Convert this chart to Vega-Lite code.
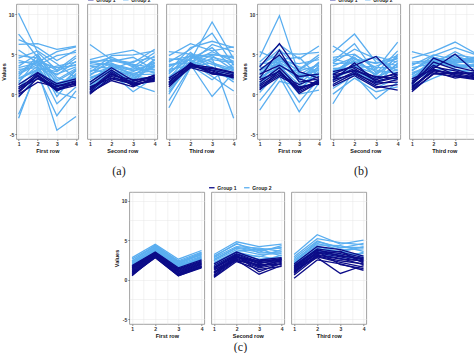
{
"$schema": "https://vega.github.io/schema/vega-lite/v6.json",
"padding": {"left": 1, "top": -4, "right": 0, "bottom": 0},
"config": {
 "view": {"stroke": "#8a8a8a", "strokeWidth": 0.8},
 "axis": {"domain": false, "labelFontSize": 5, "titleFontSize": 5.5, "labelFont": "Liberation Sans", "titleFont": "Liberation Sans", "labelFontWeight": "bold", "titleFontWeight": "bold", "labelColor": "#333", "titleColor": "#111", "tickSize": 1.5, "tickColor": "#444", "tickWidth": 0.6, "labelPadding": 1, "titlePadding": 1.5, "gridColor": "#e6e6e6", "gridWidth": 0.5, "labelFlush": false, "labelOverlap": false},
 "legend": {"orient": "top", "direction": "horizontal", "title": null, "symbolType": "stroke", "symbolStrokeWidth": 1.5, "symbolSize": 30, "labelFontSize": 5, "labelFont": "Liberation Sans", "labelFontWeight": "bold", "labelColor": "#222", "columnPadding": 4, "padding": 0, "offset": 0, "labelOffset": 2, "layout": {"top": {"anchor": "middle"}}},
 "title": {"font": "Liberation Serif", "fontSize": 12, "fontWeight": "normal", "color": "#222", "orient": "bottom", "anchor": "middle", "offset": 12},
 "line": {"strokeWidth": 1.3}
},
"datasets": {
 "a1": [
  {"g":"Group 2","i":1,"1":10.1,"2":5.2,"3":3.0,"4":4.8},
  {"g":"Group 2","i":2,"1":7.5,"2":4.6,"3":1.8,"4":3.2},
  {"g":"Group 2","i":3,"1":6.8,"2":5.8,"3":4.2,"4":5.5},
  {"g":"Group 2","i":4,"1":6.2,"2":6.3,"3":5.6,"4":6.0},
  {"g":"Group 2","i":5,"1":5.5,"2":3.9,"3":2.4,"4":4.1},
  {"g":"Group 2","i":6,"1":4.8,"2":4.5,"3":0.5,"4":2.2},
  {"g":"Group 2","i":7,"1":4.2,"2":3.6,"3":4.8,"4":5.2},
  {"g":"Group 2","i":8,"1":3.9,"2":4.1,"3":3.3,"4":3.6},
  {"g":"Group 2","i":9,"1":3.5,"2":5.0,"3":1.2,"4":1.8},
  {"g":"Group 2","i":10,"1":3.1,"2":3.3,"3":2.8,"4":4.5},
  {"g":"Group 2","i":11,"1":2.8,"2":4.2,"3":-0.3,"4":2.6},
  {"g":"Group 2","i":12,"1":2.5,"2":3.7,"3":1.6,"4":3.0},
  {"g":"Group 2","i":13,"1":2.2,"2":4.8,"3":2.1,"4":1.2},
  {"g":"Group 2","i":14,"1":1.9,"2":3.0,"3":3.5,"4":4.0},
  {"g":"Group 2","i":15,"1":1.6,"2":3.5,"3":-1.2,"4":0.9},
  {"g":"Group 2","i":16,"1":1.2,"2":2.8,"3":0.8,"4":2.9},
  {"g":"Group 2","i":17,"1":0.8,"2":3.2,"3":2.5,"4":3.4},
  {"g":"Group 2","i":18,"1":0.3,"2":2.6,"3":1.4,"4":2.0},
  {"g":"Group 2","i":19,"1":-0.4,"2":2.4,"3":-2.7,"4":0.4},
  {"g":"Group 2","i":20,"1":-2.5,"2":2.9,"3":-4.5,"4":-2.8},
  {"g":"Group 2","i":21,"1":-3.0,"2":3.4,"3":0.2,"4":-0.5},
  {"g":"Group 2","i":22,"1":2.6,"2":4.0,"3":5.3,"4":5.9},
  {"g":"Group 2","i":23,"1":3.3,"2":3.9,"3":1.0,"4":2.4},
  {"g":"Group 2","i":24,"1":1.4,"2":4.4,"3":2.9,"4":3.7},
  {"g":"Group 2","i":25,"1":4.5,"2":5.4,"3":3.8,"4":2.0},
  {"g":"Group 2","i":26,"1":2.0,"2":3.1,"3":0.3,"4":3.1},
  {"g":"Group 1","i":1,"1":0.2,"2":2.4,"3":0.7,"4":1.4},
  {"g":"Group 1","i":2,"1":-0.3,"2":2.0,"3":0.5,"4":1.1},
  {"g":"Group 1","i":3,"1":0.6,"2":2.6,"3":1.0,"4":1.7},
  {"g":"Group 1","i":4,"1":0.9,"2":2.2,"3":0.6,"4":1.3},
  {"g":"Group 1","i":5,"1":0.0,"2":1.5,"3":0.9,"4":1.6},
  {"g":"Group 1","i":6,"1":1.2,"2":2.7,"3":1.3,"4":1.9},
  {"g":"Group 1","i":7,"1":0.4,"2":2.3,"3":0.4,"4":1.5},
  {"g":"Group 1","i":8,"1":0.7,"2":1.9,"3":1.1,"4":1.2}
 ],
 "a2": [
  {"g":"Group 2","i":1,"1":6.2,"2":4.3,"3":3.9,"4":5.6},
  {"g":"Group 2","i":2,"1":4.3,"2":5.0,"3":5.5,"4":4.2},
  {"g":"Group 2","i":3,"1":4.0,"2":3.6,"3":2.9,"4":3.8},
  {"g":"Group 2","i":4,"1":3.8,"2":4.6,"3":3.4,"4":5.2},
  {"g":"Group 2","i":5,"1":3.5,"2":3.2,"3":2.2,"4":4.4},
  {"g":"Group 2","i":6,"1":3.2,"2":4.1,"3":4.6,"4":3.0},
  {"g":"Group 2","i":7,"1":3.0,"2":2.7,"3":1.9,"4":3.6},
  {"g":"Group 2","i":8,"1":2.8,"2":3.8,"3":3.1,"4":4.8},
  {"g":"Group 2","i":9,"1":2.5,"2":3.4,"3":2.6,"4":2.9},
  {"g":"Group 2","i":10,"1":2.3,"2":4.4,"3":3.7,"4":3.3},
  {"g":"Group 2","i":11,"1":2.0,"2":2.9,"3":1.5,"4":3.9},
  {"g":"Group 2","i":12,"1":1.8,"2":3.5,"3":2.4,"4":2.5},
  {"g":"Group 2","i":13,"1":1.5,"2":3.1,"3":4.1,"4":4.6},
  {"g":"Group 2","i":14,"1":1.2,"2":2.6,"3":0.3,"4":2.1},
  {"g":"Group 2","i":15,"1":1.0,"2":3.3,"3":2.0,"4":3.5},
  {"g":"Group 2","i":16,"1":0.7,"2":2.3,"3":2.8,"4":4.0},
  {"g":"Group 2","i":17,"1":0.4,"2":2.0,"3":1.2,"4":0.3},
  {"g":"Group 2","i":18,"1":0.1,"2":2.5,"3":3.3,"4":2.7},
  {"g":"Group 2","i":19,"1":2.7,"2":4.8,"3":4.9,"4":5.4},
  {"g":"Group 2","i":20,"1":3.6,"2":3.9,"3":2.3,"4":1.8},
  {"g":"Group 2","i":21,"1":1.4,"2":3.7,"3":3.0,"4":3.1},
  {"g":"Group 2","i":22,"1":2.1,"2":3.0,"3":1.7,"4":4.3},
  {"g":"Group 2","i":23,"1":4.1,"2":4.2,"3":3.6,"4":2.6},
  {"g":"Group 2","i":24,"1":0.9,"2":2.8,"3":2.5,"4":3.6},
  {"g":"Group 1","i":1,"1":0.0,"2":2.2,"3":1.2,"4":1.7},
  {"g":"Group 1","i":2,"1":0.3,"2":2.5,"3":1.4,"4":2.0},
  {"g":"Group 1","i":3,"1":0.6,"2":2.8,"3":1.0,"4":1.9},
  {"g":"Group 1","i":4,"1":0.9,"2":2.0,"3":1.6,"4":2.3},
  {"g":"Group 1","i":5,"1":1.2,"2":3.0,"3":1.3,"4":1.6},
  {"g":"Group 1","i":6,"1":0.2,"2":1.7,"3":0.9,"4":2.1},
  {"g":"Group 1","i":7,"1":0.5,"2":2.6,"3":1.1,"4":1.8},
  {"g":"Group 1","i":8,"1":1.5,"2":3.3,"3":1.7,"4":2.2},
  {"g":"Group 1","i":9,"1":0.1,"2":1.9,"3":1.3,"4":2.4},
  {"g":"Group 1","i":10,"1":0.8,"2":2.3,"3":1.8,"4":2.0}
 ],
 "a3": [
  {"g":"Group 2","i":1,"1":5.3,"2":5.0,"3":4.6,"4":4.0},
  {"g":"Group 2","i":2,"1":4.8,"2":6.3,"3":5.4,"4":5.9},
  {"g":"Group 2","i":3,"1":4.4,"2":4.2,"3":9.0,"4":4.4},
  {"g":"Group 2","i":4,"1":4.0,"2":5.6,"3":7.6,"4":3.6},
  {"g":"Group 2","i":5,"1":3.7,"2":3.9,"3":6.2,"4":5.3},
  {"g":"Group 2","i":6,"1":3.4,"2":4.8,"3":3.7,"4":2.9},
  {"g":"Group 2","i":7,"1":3.1,"2":3.6,"3":4.9,"4":4.7},
  {"g":"Group 2","i":8,"1":2.8,"2":4.4,"3":5.8,"4":3.2},
  {"g":"Group 2","i":9,"1":2.5,"2":5.2,"3":3.1,"4":2.4},
  {"g":"Group 2","i":10,"1":2.2,"2":3.8,"3":4.3,"4":3.9},
  {"g":"Group 2","i":11,"1":1.9,"2":4.1,"3":2.6,"4":2.0},
  {"g":"Group 2","i":12,"1":1.5,"2":4.6,"3":5.0,"4":4.5},
  {"g":"Group 2","i":13,"1":1.1,"2":3.5,"3":3.4,"4":1.5},
  {"g":"Group 2","i":14,"1":0.6,"2":3.7,"3":-0.3,"4":2.7},
  {"g":"Group 2","i":15,"1":0.0,"2":4.0,"3":2.2,"4":0.4},
  {"g":"Group 2","i":16,"1":-0.8,"2":3.4,"3":3.9,"4":3.1},
  {"g":"Group 2","i":17,"1":-1.7,"2":3.3,"3":4.5,"4":-3.0},
  {"g":"Group 2","i":18,"1":2.9,"2":5.8,"3":6.6,"4":5.8},
  {"g":"Group 2","i":19,"1":3.6,"2":4.3,"3":2.9,"4":3.4},
  {"g":"Group 2","i":20,"1":2.0,"2":4.9,"3":4.0,"4":2.5},
  {"g":"Group 2","i":21,"1":1.3,"2":3.9,"3":5.3,"4":4.1},
  {"g":"Group 2","i":22,"1":4.2,"2":4.7,"3":3.3,"4":1.8},
  {"g":"Group 2","i":23,"1":0.3,"2":3.6,"3":1.8,"4":3.8},
  {"g":"Group 2","i":24,"1":2.6,"2":4.5,"3":4.8,"4":3.0},
  {"g":"Group 1","i":1,"1":1.2,"2":3.6,"3":3.0,"4":2.4},
  {"g":"Group 1","i":2,"1":1.5,"2":3.8,"3":2.7,"4":2.2},
  {"g":"Group 1","i":3,"1":1.8,"2":3.4,"3":3.2,"4":2.6},
  {"g":"Group 1","i":4,"1":0.9,"2":3.5,"3":2.9,"4":2.0},
  {"g":"Group 1","i":5,"1":1.4,"2":3.9,"3":2.5,"4":2.3},
  {"g":"Group 1","i":6,"1":2.0,"2":3.7,"3":3.3,"4":2.7},
  {"g":"Group 1","i":7,"1":1.1,"2":3.3,"3":2.6,"4":2.1}
 ],
 "b1": [
  {"g":"Group 2","i":1,"1":5.3,"2":4.2,"3":3.0,"4":4.6},
  {"g":"Group 2","i":2,"1":4.6,"2":9.8,"3":2.4,"4":3.8},
  {"g":"Group 2","i":3,"1":4.0,"2":6.2,"3":4.4,"4":6.0},
  {"g":"Group 2","i":4,"1":3.6,"2":5.1,"3":5.0,"4":5.2},
  {"g":"Group 2","i":5,"1":3.3,"2":3.7,"3":2.0,"4":3.3},
  {"g":"Group 2","i":6,"1":3.0,"2":4.5,"3":3.4,"4":2.9},
  {"g":"Group 2","i":7,"1":2.7,"2":3.9,"3":1.6,"4":3.9},
  {"g":"Group 2","i":8,"1":2.4,"2":4.8,"3":2.7,"4":2.3},
  {"g":"Group 2","i":9,"1":2.1,"2":3.4,"3":1.2,"4":3.5},
  {"g":"Group 2","i":10,"1":1.8,"2":4.1,"3":3.8,"4":4.3},
  {"g":"Group 2","i":11,"1":1.5,"2":3.0,"3":0.6,"4":2.6},
  {"g":"Group 2","i":12,"1":1.1,"2":3.6,"3":2.3,"4":3.0},
  {"g":"Group 2","i":13,"1":0.7,"2":2.6,"3":-1.0,"4":1.9},
  {"g":"Group 2","i":14,"1":0.2,"2":2.9,"3":0.0,"4":0.5},
  {"g":"Group 2","i":15,"1":-0.8,"2":2.2,"3":-2.2,"4":1.4},
  {"g":"Group 2","i":16,"1":-2.0,"2":1.6,"3":1.0,"4":2.8},
  {"g":"Group 2","i":17,"1":3.5,"2":5.6,"3":3.1,"4":4.9},
  {"g":"Group 2","i":18,"1":2.9,"2":4.3,"3":4.6,"4":2.1},
  {"g":"Group 2","i":19,"1":2.2,"2":3.2,"3":2.9,"4":3.6},
  {"g":"Group 2","i":20,"1":1.3,"2":4.6,"3":1.8,"4":4.0},
  {"g":"Group 2","i":21,"1":0.9,"2":3.8,"3":0.4,"4":3.2},
  {"g":"Group 2","i":22,"1":3.8,"2":4.0,"3":2.5,"4":1.6},
  {"g":"Group 1","i":1,"1":3.4,"2":6.3,"3":2.8,"4":2.0},
  {"g":"Group 1","i":2,"1":0.5,"2":3.0,"3":0.1,"4":1.5},
  {"g":"Group 1","i":3,"1":1.0,"2":2.6,"3":0.5,"4":1.8},
  {"g":"Group 1","i":4,"1":1.5,"2":3.3,"3":0.8,"4":1.3},
  {"g":"Group 1","i":5,"1":0.8,"2":2.4,"3":1.2,"4":2.2},
  {"g":"Group 1","i":6,"1":2.0,"2":5.5,"3":1.5,"4":1.9},
  {"g":"Group 1","i":7,"1":1.2,"2":2.9,"3":0.3,"4":1.6},
  {"g":"Group 1","i":8,"1":0.6,"2":2.2,"3":0.9,"4":1.4},
  {"g":"Group 1","i":9,"1":2.5,"2":3.6,"3":2.2,"4":2.5},
  {"g":"Group 1","i":10,"1":1.8,"2":2.8,"3":0.6,"4":1.7},
  {"g":"Group 1","i":11,"1":3.0,"2":4.9,"3":1.9,"4":1.2}
 ],
 "b2": [
  {"g":"Group 2","i":1,"1":6.0,"2":4.4,"3":3.8,"4":4.8},
  {"g":"Group 2","i":2,"1":5.2,"2":7.5,"3":4.0,"4":3.6},
  {"g":"Group 2","i":3,"1":4.6,"2":5.0,"3":3.1,"4":6.5},
  {"g":"Group 2","i":4,"1":4.1,"2":6.3,"3":2.6,"4":5.4},
  {"g":"Group 2","i":5,"1":3.8,"2":3.9,"3":4.7,"4":4.0},
  {"g":"Group 2","i":6,"1":3.5,"2":4.6,"3":2.2,"4":3.1},
  {"g":"Group 2","i":7,"1":3.2,"2":3.3,"3":3.5,"4":4.5},
  {"g":"Group 2","i":8,"1":2.9,"2":4.1,"3":2.8,"4":2.7},
  {"g":"Group 2","i":9,"1":2.6,"2":3.6,"3":1.9,"4":3.8},
  {"g":"Group 2","i":10,"1":2.3,"2":4.9,"3":3.3,"4":3.3},
  {"g":"Group 2","i":11,"1":2.0,"2":3.0,"3":1.4,"4":2.4},
  {"g":"Group 2","i":12,"1":1.6,"2":3.5,"3":2.5,"4":4.2},
  {"g":"Group 2","i":13,"1":1.2,"2":2.7,"3":0.8,"4":2.0},
  {"g":"Group 2","i":14,"1":0.7,"2":2.4,"3":-0.6,"4":1.5},
  {"g":"Group 2","i":15,"1":0.0,"2":2.0,"3":0.3,"4":0.9},
  {"g":"Group 2","i":16,"1":-1.2,"2":3.1,"3":1.7,"4":5.0},
  {"g":"Group 2","i":17,"1":3.9,"2":5.6,"3":4.4,"4":2.9},
  {"g":"Group 2","i":18,"1":3.0,"2":2.8,"3":2.0,"4":3.5},
  {"g":"Group 2","i":19,"1":2.4,"2":4.3,"3":3.9,"4":4.4},
  {"g":"Group 2","i":20,"1":1.8,"2":3.8,"3":3.0,"4":2.6},
  {"g":"Group 2","i":21,"1":4.4,"2":3.7,"3":1.2,"4":3.9},
  {"g":"Group 2","i":22,"1":2.7,"2":4.5,"3":2.4,"4":4.7},
  {"g":"Group 1","i":1,"1":1.5,"2":2.8,"3":1.2,"4":1.8},
  {"g":"Group 1","i":2,"1":2.0,"2":3.2,"3":1.6,"4":2.3},
  {"g":"Group 1","i":3,"1":2.5,"2":3.6,"3":4.7,"4":2.0},
  {"g":"Group 1","i":4,"1":1.8,"2":2.5,"3":1.0,"4":0.5},
  {"g":"Group 1","i":5,"1":2.2,"2":3.0,"3":1.8,"4":2.7},
  {"g":"Group 1","i":6,"1":1.2,"2":2.6,"3":1.4,"4":1.5},
  {"g":"Group 1","i":7,"1":2.8,"2":3.4,"3":2.0,"4":2.5},
  {"g":"Group 1","i":8,"1":1.0,"2":2.3,"3":0.8,"4":1.2},
  {"g":"Group 1","i":9,"1":1.7,"2":3.9,"3":1.5,"4":2.1},
  {"g":"Group 1","i":10,"1":2.4,"2":2.9,"3":2.2,"4":1.9}
 ],
 "b3": [
  {"g":"Group 2","i":1,"1":5.3,"2":4.6,"3":4.0,"4":4.3},
  {"g":"Group 2","i":2,"1":4.5,"2":5.3,"3":6.5,"4":5.0},
  {"g":"Group 2","i":3,"1":4.0,"2":4.2,"3":4.9,"4":4.5},
  {"g":"Group 2","i":4,"1":3.6,"2":4.9,"3":4.3,"4":3.8},
  {"g":"Group 2","i":5,"1":3.3,"2":3.8,"3":5.3,"4":4.0},
  {"g":"Group 2","i":6,"1":3.0,"2":4.4,"3":3.7,"4":3.4},
  {"g":"Group 2","i":7,"1":2.7,"2":3.6,"3":4.1,"4":4.7},
  {"g":"Group 2","i":8,"1":2.4,"2":4.1,"3":3.3,"4":3.6},
  {"g":"Group 2","i":9,"1":2.1,"2":3.3,"3":4.6,"4":3.2},
  {"g":"Group 2","i":10,"1":1.8,"2":4.6,"3":3.9,"4":4.1},
  {"g":"Group 2","i":11,"1":1.5,"2":3.1,"3":3.0,"4":2.9},
  {"g":"Group 2","i":12,"1":1.1,"2":3.9,"3":3.6,"4":3.7},
  {"g":"Group 2","i":13,"1":0.8,"2":2.0,"3":3.1,"4":2.5},
  {"g":"Group 2","i":14,"1":0.5,"2":3.4,"3":4.4,"4":4.4},
  {"g":"Group 2","i":15,"1":2.9,"2":4.8,"3":5.8,"4":4.9},
  {"g":"Group 2","i":16,"1":3.8,"2":4.0,"3":3.5,"4":3.1},
  {"g":"Group 2","i":17,"1":2.2,"2":3.7,"3":4.2,"4":4.2},
  {"g":"Group 2","i":18,"1":1.3,"2":4.3,"3":3.4,"4":3.5},
  {"g":"Group 2","i":19,"1":2.6,"2":3.5,"3":4.8,"4":3.9},
  {"g":"Group 2","i":20,"1":1.9,"2":4.5,"3":3.8,"4":4.6},
  {"g":"Group 1","i":1,"1":0.3,"2":2.6,"3":2.2,"4":1.8},
  {"g":"Group 1","i":2,"1":0.6,"2":3.0,"3":2.6,"4":2.1},
  {"g":"Group 1","i":3,"1":1.0,"2":2.8,"3":2.0,"4":2.4},
  {"g":"Group 1","i":4,"1":1.3,"2":3.4,"3":2.9,"4":2.2},
  {"g":"Group 1","i":5,"1":0.8,"2":3.2,"3":5.0,"4":2.6},
  {"g":"Group 1","i":6,"1":1.6,"2":3.6,"3":2.4,"4":2.0},
  {"g":"Group 1","i":7,"1":0.5,"2":2.5,"3":2.7,"4":2.5},
  {"g":"Group 1","i":8,"1":1.2,"2":4.0,"3":3.1,"4":2.3},
  {"g":"Group 1","i":9,"1":1.9,"2":3.1,"3":2.3,"4":1.9},
  {"g":"Group 1","i":10,"1":0.9,"2":2.9,"3":2.5,"4":2.7},
  {"g":"Group 1","i":11,"1":1.4,"2":4.5,"3":3.4,"4":2.8}
 ],
 "c1": [
  {"g":"Group 2","i":1,"1":2.8,"2":4.5,"3":2.6,"4":3.7},
  {"g":"Group 2","i":2,"1":2.6,"2":4.3,"3":2.4,"4":3.5},
  {"g":"Group 2","i":3,"1":2.4,"2":4.2,"3":2.2,"4":3.4},
  {"g":"Group 2","i":4,"1":2.2,"2":4.0,"3":2.0,"4":3.2},
  {"g":"Group 2","i":5,"1":2.0,"2":3.9,"3":1.9,"4":3.0},
  {"g":"Group 2","i":6,"1":1.9,"2":3.8,"3":1.7,"4":2.9},
  {"g":"Group 2","i":7,"1":1.7,"2":3.7,"3":1.6,"4":2.8},
  {"g":"Group 2","i":8,"1":1.6,"2":3.6,"3":1.5,"4":2.7},
  {"g":"Group 2","i":9,"1":1.5,"2":3.5,"3":1.8,"4":2.6},
  {"g":"Group 2","i":10,"1":2.3,"2":4.4,"3":2.3,"4":3.1},
  {"g":"Group 2","i":11,"1":2.1,"2":4.1,"3":2.1,"4":3.3},
  {"g":"Group 2","i":12,"1":1.8,"2":3.9,"3":1.9,"4":2.5},
  {"g":"Group 1","i":1,"1":1.8,"2":3.5,"3":1.5,"4":2.5},
  {"g":"Group 1","i":2,"1":1.7,"2":3.4,"3":1.4,"4":2.4},
  {"g":"Group 1","i":3,"1":1.6,"2":3.4,"3":1.3,"4":2.3},
  {"g":"Group 1","i":4,"1":1.5,"2":3.3,"3":1.2,"4":2.2},
  {"g":"Group 1","i":5,"1":1.4,"2":3.2,"3":1.1,"4":2.1},
  {"g":"Group 1","i":6,"1":1.3,"2":3.2,"3":1.0,"4":2.0},
  {"g":"Group 1","i":7,"1":1.2,"2":3.1,"3":0.9,"4":2.0},
  {"g":"Group 1","i":8,"1":1.1,"2":3.0,"3":0.8,"4":1.9},
  {"g":"Group 1","i":9,"1":1.0,"2":3.0,"3":0.7,"4":1.8},
  {"g":"Group 1","i":10,"1":0.9,"2":2.9,"3":0.6,"4":1.7},
  {"g":"Group 1","i":11,"1":0.8,"2":2.9,"3":0.6,"4":1.6},
  {"g":"Group 1","i":12,"1":0.7,"2":2.8,"3":0.5,"4":1.6},
  {"g":"Group 1","i":13,"1":0.6,"2":2.8,"3":0.5,"4":1.5},
  {"g":"Group 1","i":14,"1":0.5,"2":3.0,"3":0.7,"4":1.7}
 ],
 "c2": [
  {"g":"Group 2","i":1,"1":3.2,"2":4.8,"3":4.2,"4":4.5},
  {"g":"Group 2","i":2,"1":3.0,"2":4.5,"3":3.8,"4":4.0},
  {"g":"Group 2","i":3,"1":2.8,"2":4.2,"3":4.0,"4":3.6},
  {"g":"Group 2","i":4,"1":2.6,"2":4.0,"3":3.5,"4":4.3},
  {"g":"Group 2","i":5,"1":2.4,"2":3.8,"3":3.2,"4":3.3},
  {"g":"Group 2","i":6,"1":2.2,"2":3.6,"3":3.9,"4":3.0},
  {"g":"Group 2","i":7,"1":2.0,"2":3.5,"3":2.9,"4":3.8},
  {"g":"Group 2","i":8,"1":1.8,"2":3.3,"3":2.6,"4":2.8},
  {"g":"Group 2","i":9,"1":1.6,"2":3.1,"3":3.0,"4":2.5},
  {"g":"Group 2","i":10,"1":2.9,"2":4.6,"3":3.4,"4":3.5},
  {"g":"Group 2","i":11,"1":1.5,"2":3.0,"3":2.3,"4":3.1},
  {"g":"Group 2","i":12,"1":2.5,"2":4.1,"3":3.7,"4":4.1},
  {"g":"Group 1","i":1,"1":2.0,"2":3.5,"3":2.5,"4":2.8},
  {"g":"Group 1","i":2,"1":1.8,"2":3.3,"3":2.3,"4":2.6},
  {"g":"Group 1","i":3,"1":1.6,"2":3.2,"3":2.1,"4":2.5},
  {"g":"Group 1","i":4,"1":1.4,"2":3.0,"3":2.0,"4":2.7},
  {"g":"Group 1","i":5,"1":1.2,"2":2.9,"3":1.8,"4":2.4},
  {"g":"Group 1","i":6,"1":1.0,"2":2.8,"3":2.2,"4":2.3},
  {"g":"Group 1","i":7,"1":0.8,"2":2.7,"3":1.7,"4":2.2},
  {"g":"Group 1","i":8,"1":0.6,"2":2.6,"3":1.5,"4":2.0},
  {"g":"Group 1","i":9,"1":0.4,"2":2.5,"3":0.7,"4":1.8},
  {"g":"Group 1","i":10,"1":0.3,"2":2.3,"3":1.3,"4":1.7},
  {"g":"Group 1","i":11,"1":1.5,"2":3.1,"3":1.0,"4":2.1},
  {"g":"Group 1","i":12,"1":0.9,"2":2.9,"3":2.4,"4":2.6},
  {"g":"Group 1","i":13,"1":1.3,"2":2.4,"3":1.9,"4":1.9},
  {"g":"Group 1","i":14,"1":0.5,"2":3.0,"3":1.6,"4":2.5}
 ],
 "c3": [
  {"g":"Group 2","i":1,"1":3.2,"2":5.7,"3":4.5,"4":5.0},
  {"g":"Group 2","i":2,"1":2.9,"2":5.2,"3":4.7,"4":4.4},
  {"g":"Group 2","i":3,"1":2.7,"2":4.9,"3":4.0,"4":4.6},
  {"g":"Group 2","i":4,"1":2.5,"2":4.6,"3":3.8,"4":3.9},
  {"g":"Group 2","i":5,"1":2.3,"2":4.4,"3":4.3,"4":3.6},
  {"g":"Group 2","i":6,"1":2.1,"2":4.2,"3":3.5,"4":4.2},
  {"g":"Group 2","i":7,"1":1.9,"2":4.0,"3":3.2,"4":3.3},
  {"g":"Group 2","i":8,"1":1.7,"2":3.9,"3":3.6,"4":3.0},
  {"g":"Group 2","i":9,"1":1.5,"2":3.7,"3":2.9,"4":2.8},
  {"g":"Group 2","i":10,"1":1.2,"2":3.5,"3":2.6,"4":3.5},
  {"g":"Group 2","i":11,"1":1.0,"2":3.6,"3":3.0,"4":2.5},
  {"g":"Group 2","i":12,"1":2.2,"2":4.8,"3":4.1,"4":4.1},
  {"g":"Group 1","i":1,"1":2.0,"2":4.2,"3":3.8,"4":3.0},
  {"g":"Group 1","i":2,"1":1.8,"2":3.9,"3":3.5,"4":2.8},
  {"g":"Group 1","i":3,"1":1.6,"2":3.7,"3":3.3,"4":2.6},
  {"g":"Group 1","i":4,"1":1.5,"2":3.5,"3":3.1,"4":2.5},
  {"g":"Group 1","i":5,"1":1.4,"2":3.4,"3":2.9,"4":2.3},
  {"g":"Group 1","i":6,"1":1.3,"2":3.3,"3":3.6,"4":2.1},
  {"g":"Group 1","i":7,"1":1.2,"2":2.8,"3":0.8,"4":1.8},
  {"g":"Group 1","i":8,"1":1.1,"2":3.1,"3":2.6,"4":2.4},
  {"g":"Group 1","i":9,"1":1.0,"2":3.0,"3":2.4,"4":2.0},
  {"g":"Group 1","i":10,"1":0.8,"2":3.2,"3":2.7,"4":1.9},
  {"g":"Group 1","i":11,"1":0.6,"2":2.9,"3":2.2,"4":1.6},
  {"g":"Group 1","i":12,"1":0.2,"2":2.5,"3":2.0,"4":1.2},
  {"g":"Group 1","i":13,"1":1.7,"2":3.8,"3":3.0,"4":2.7},
  {"g":"Group 1","i":14,"1":0.9,"2":3.6,"3":1.9,"4":1.4}
 ]
},
"vconcat": [
 {
  "hconcat": [
   {
    "title": {"text": "(a)"},
    "spacing": 9,
    "bounds": "flush",
    "hconcat": [
     {"width": 62, "height": 135, "data": {"name": "a1"}, "transform": [{"fold": ["1","2","3","4"], "as": ["x","v"]}], "mark": "line",
      "encoding": {
       "x": {"field": "x", "type": "quantitative", "scale": {"domain": [0.88, 4.12], "nice": false}, "axis": {"title": "First row", "values": [1,1.5,2,2.5,3,3.5,4], "labelExpr": "datum.value % 1 ? '' : '' + datum.value", "tickOpacity": {"condition": {"test": "datum.value % 1 != 0", "value": 0}, "value": 1}}},
       "y": {"field": "v", "type": "quantitative", "scale": {"domain": [-5.6, 11.25], "nice": false, "zero": false}, "axis": {"title": "Values", "values": [-5,-2.5,0,2.5,5,7.5,10], "labelExpr": "datum.value % 5 ? '' : '' + datum.value", "tickOpacity": {"condition": {"test": "datum.value % 5 != 0", "value": 0}, "value": 1}}},
       "color": {"field": "g", "type": "nominal", "scale": {"domain": ["Group 1","Group 2"], "range": ["#0c0c88","#5aaef0"]}},
       "detail": {"field": "i"}
      }},
     {"width": 70, "height": 135, "data": {"name": "a2"}, "transform": [{"fold": ["1","2","3","4"], "as": ["x","v"]}], "mark": "line",
      "encoding": {
       "x": {"field": "x", "type": "quantitative", "scale": {"domain": [0.88, 4.12], "nice": false}, "axis": {"title": "Second row", "values": [1,1.5,2,2.5,3,3.5,4], "labelExpr": "datum.value % 1 ? '' : '' + datum.value", "tickOpacity": {"condition": {"test": "datum.value % 1 != 0", "value": 0}, "value": 1}}},
       "y": {"field": "v", "type": "quantitative", "scale": {"domain": [-5.6, 11.25], "nice": false, "zero": false}, "axis": {"title": null, "labels": false, "ticks": false, "values": [-5,-2.5,0,2.5,5,7.5,10]}},
       "color": {"field": "g", "type": "nominal", "scale": {"domain": ["Group 1","Group 2"], "range": ["#0c0c88","#5aaef0"]}},
       "detail": {"field": "i"}
      }},
     {"width": 70, "height": 135, "data": {"name": "a3"}, "transform": [{"fold": ["1","2","3","4"], "as": ["x","v"]}], "mark": "line",
      "encoding": {
       "x": {"field": "x", "type": "quantitative", "scale": {"domain": [0.88, 4.12], "nice": false}, "axis": {"title": "Third row", "values": [1,1.5,2,2.5,3,3.5,4], "labelExpr": "datum.value % 1 ? '' : '' + datum.value", "tickOpacity": {"condition": {"test": "datum.value % 1 != 0", "value": 0}, "value": 1}}},
       "y": {"field": "v", "type": "quantitative", "scale": {"domain": [-5.6, 11.25], "nice": false, "zero": false}, "axis": {"title": null, "labels": false, "ticks": false, "values": [-5,-2.5,0,2.5,5,7.5,10]}},
       "color": {"field": "g", "type": "nominal", "scale": {"domain": ["Group 1","Group 2"], "range": ["#0c0c88","#5aaef0"]}},
       "detail": {"field": "i"}
      }}
    ]
   },
   {
    "title": {"text": "(b)"},
    "spacing": 9,
    "bounds": "flush",
    "hconcat": [
     {"width": 64, "height": 135, "data": {"name": "b1"}, "transform": [{"fold": ["1","2","3","4"], "as": ["x","v"]}], "mark": "line",
      "encoding": {
       "x": {"field": "x", "type": "quantitative", "scale": {"domain": [0.88, 4.12], "nice": false}, "axis": {"title": "First row", "values": [1,1.5,2,2.5,3,3.5,4], "labelExpr": "datum.value % 1 ? '' : '' + datum.value", "tickOpacity": {"condition": {"test": "datum.value % 1 != 0", "value": 0}, "value": 1}}},
       "y": {"field": "v", "type": "quantitative", "scale": {"domain": [-5.6, 11.25], "nice": false, "zero": false}, "axis": {"title": "Values", "values": [-5,-2.5,0,2.5,5,7.5,10], "labelExpr": "datum.value % 5 ? '' : '' + datum.value", "tickOpacity": {"condition": {"test": "datum.value % 5 != 0", "value": 0}, "value": 1}}},
       "color": {"field": "g", "type": "nominal", "scale": {"domain": ["Group 1","Group 2"], "range": ["#0c0c88","#5aaef0"]}},
       "detail": {"field": "i"}
      }},
     {"width": 70, "height": 135, "data": {"name": "b2"}, "transform": [{"fold": ["1","2","3","4"], "as": ["x","v"]}], "mark": "line",
      "encoding": {
       "x": {"field": "x", "type": "quantitative", "scale": {"domain": [0.88, 4.12], "nice": false}, "axis": {"title": "Second row", "values": [1,1.5,2,2.5,3,3.5,4], "labelExpr": "datum.value % 1 ? '' : '' + datum.value", "tickOpacity": {"condition": {"test": "datum.value % 1 != 0", "value": 0}, "value": 1}}},
       "y": {"field": "v", "type": "quantitative", "scale": {"domain": [-5.6, 11.25], "nice": false, "zero": false}, "axis": {"title": null, "labels": false, "ticks": false, "values": [-5,-2.5,0,2.5,5,7.5,10]}},
       "color": {"field": "g", "type": "nominal", "scale": {"domain": ["Group 1","Group 2"], "range": ["#0c0c88","#5aaef0"]}},
       "detail": {"field": "i"}
      }},
     {"width": 70, "height": 135, "data": {"name": "b3"}, "transform": [{"fold": ["1","2","3","4"], "as": ["x","v"]}], "mark": "line",
      "encoding": {
       "x": {"field": "x", "type": "quantitative", "scale": {"domain": [0.88, 4.12], "nice": false}, "axis": {"title": "Third row", "values": [1,1.5,2,2.5,3,3.5,4], "labelExpr": "datum.value % 1 ? '' : '' + datum.value", "tickOpacity": {"condition": {"test": "datum.value % 1 != 0", "value": 0}, "value": 1}}},
       "y": {"field": "v", "type": "quantitative", "scale": {"domain": [-5.6, 11.25], "nice": false, "zero": false}, "axis": {"title": null, "labels": false, "ticks": false, "values": [-5,-2.5,0,2.5,5,7.5,10]}},
       "color": {"field": "g", "type": "nominal", "scale": {"domain": ["Group 1","Group 2"], "range": ["#0c0c88","#5aaef0"]}},
       "detail": {"field": "i"}
      }}
    ]
   }
  ],
  "spacing": 5,
  "resolve": {"scale": {"color": "independent"}}
 },
 {
  "title": {"text": "(c)", "offset": 3},
  "spacing": 7,
  "bounds": "flush",
  "hconcat": [
   {"width": 75, "height": 132, "data": {"name": "c1"}, "transform": [{"fold": ["1","2","3","4"], "as": ["x","v"]}], "mark": "line",
    "encoding": {
     "x": {"field": "x", "type": "quantitative", "scale": {"domain": [0.88, 4.12], "nice": false}, "axis": {"title": "First row", "values": [1,1.5,2,2.5,3,3.5,4], "labelExpr": "datum.value % 1 ? '' : '' + datum.value", "tickOpacity": {"condition": {"test": "datum.value % 1 != 0", "value": 0}, "value": 1}}},
     "y": {"field": "v", "type": "quantitative", "scale": {"domain": [-5.6, 11.1], "nice": false, "zero": false}, "axis": {"title": "Values", "values": [-5,-2.5,0,2.5,5,7.5,10], "labelExpr": "datum.value % 5 ? '' : '' + datum.value", "tickOpacity": {"condition": {"test": "datum.value % 5 != 0", "value": 0}, "value": 1}}},
     "color": {"field": "g", "type": "nominal", "scale": {"domain": ["Group 1","Group 2"], "range": ["#0c0c88","#5aaef0"]}},
     "detail": {"field": "i"}
    }},
   {"width": 73, "height": 132, "data": {"name": "c2"}, "transform": [{"fold": ["1","2","3","4"], "as": ["x","v"]}], "mark": "line",
    "encoding": {
     "x": {"field": "x", "type": "quantitative", "scale": {"domain": [0.88, 4.12], "nice": false}, "axis": {"title": "Second row", "values": [1,1.5,2,2.5,3,3.5,4], "labelExpr": "datum.value % 1 ? '' : '' + datum.value", "tickOpacity": {"condition": {"test": "datum.value % 1 != 0", "value": 0}, "value": 1}}},
     "y": {"field": "v", "type": "quantitative", "scale": {"domain": [-5.6, 11.1], "nice": false, "zero": false}, "axis": {"title": null, "labels": false, "ticks": false, "values": [-5,-2.5,0,2.5,5,7.5,10]}},
     "color": {"field": "g", "type": "nominal", "scale": {"domain": ["Group 1","Group 2"], "range": ["#0c0c88","#5aaef0"]}},
     "detail": {"field": "i"}
    }},
   {"width": 75, "height": 132, "data": {"name": "c3"}, "transform": [{"fold": ["1","2","3","4"], "as": ["x","v"]}], "mark": "line",
    "encoding": {
     "x": {"field": "x", "type": "quantitative", "scale": {"domain": [0.88, 4.12], "nice": false}, "axis": {"title": "Third row", "values": [1,1.5,2,2.5,3,3.5,4], "labelExpr": "datum.value % 1 ? '' : '' + datum.value", "tickOpacity": {"condition": {"test": "datum.value % 1 != 0", "value": 0}, "value": 1}}},
     "y": {"field": "v", "type": "quantitative", "scale": {"domain": [-5.6, 11.1], "nice": false, "zero": false}, "axis": {"title": null, "labels": false, "ticks": false, "values": [-5,-2.5,0,2.5,5,7.5,10]}},
     "color": {"field": "g", "type": "nominal", "scale": {"domain": ["Group 1","Group 2"], "range": ["#0c0c88","#5aaef0"]}},
     "detail": {"field": "i"}
    }}
  ]
 }
],
"spacing": 7,
"center": true,
"resolve": {"scale": {"color": "independent"}}
}
